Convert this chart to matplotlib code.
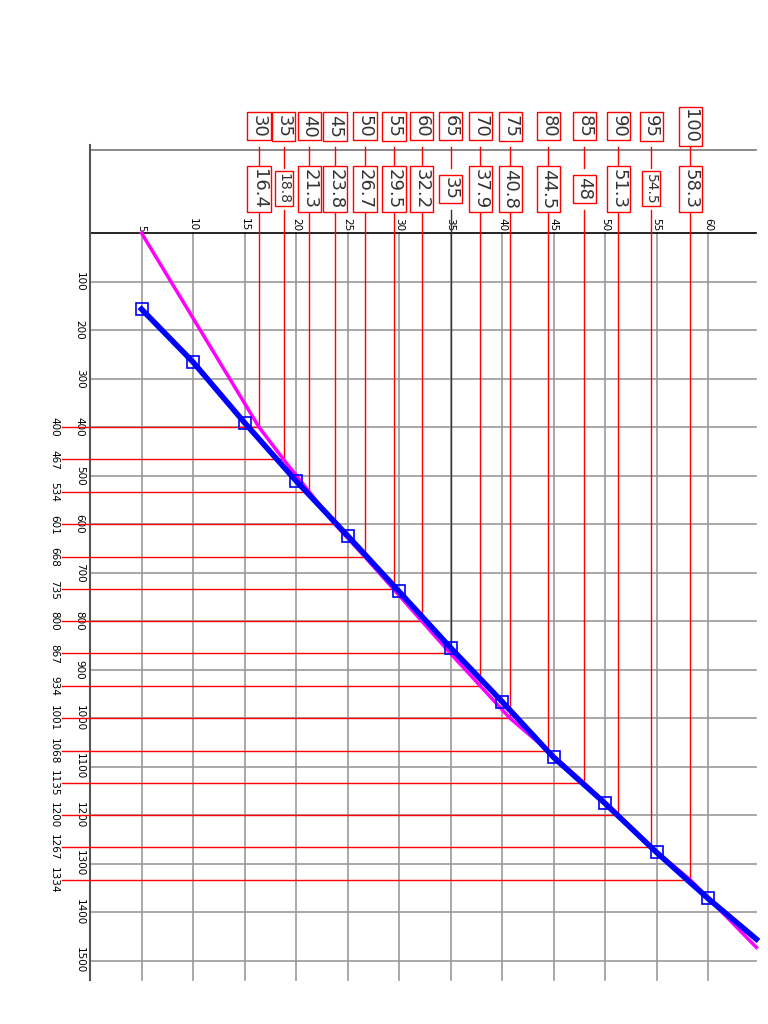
import matplotlib
matplotlib.use("Agg")
import matplotlib.pyplot as plt

# data
top_labels = [30, 35, 40, 45, 50, 55, 60, 65, 70, 75, 80, 85, 90, 95, 100]
x_vals = [16.4, 18.8, 21.3, 23.8, 26.7, 29.5, 32.2, 35, 37.9, 40.8, 44.5, 48, 51.3, 54.5, 58.3]
x_text = ["16.4", "18.8", "21.3", "23.8", "26.7", "29.5", "32.2", "35", "37.9", "40.8", "44.5", "48", "51.3", "54.5", "58.3"]
y_vals = [400, 467, 534, 601, 668, 735, 800, 867, 934, 1001, 1068, 1135, 1200, 1267, 1334]
x_ticks = [5, 10, 15, 20, 25, 30, 35, 40, 45, 50, 55, 60]
y_ticks = [100, 200, 300, 400, 500, 600, 700, 800, 900, 1000, 1100, 1200, 1300, 1400, 1500]
blue_x = [5, 10, 15, 20, 25, 30, 35, 40, 45, 50, 55, 60]
blue_y = [157, 266, 391, 511, 624, 739, 855, 966, 1081, 1176, 1277, 1372]
blue_end = (64.7, 1456)
mag_start = (5, 0)
mag_end = (64.7, 1473)

fig = plt.figure(figsize=(7.68, 10.24), dpi=100)
ax = fig.add_axes([0, 0, 1, 1])
ax.set_xlim(-90/10.3, (768-90)/10.3)
ax.set_ylim((1024-233)/0.485, -233/0.485)
ax.axis("off")

XR = 64.7
YB = 1540
grid = "#999999"
for x in x_ticks:
    ax.plot([x, x], [0, YB], color=grid, lw=1.2, zorder=1)
    ax.text(x, -3, str(x), rotation=-90, ha="center", va="bottom", fontsize=7.5)
for y in y_ticks:
    ax.plot([0, XR], [y, y], color=grid, lw=1.2, zorder=1)
    ax.text(-1.0, y, str(y), rotation=-90, ha="center", va="center", fontsize=7.5)
ax.plot([0, XR], [0, 0], color="black", lw=1.2, zorder=2)
ax.plot([0, XR], [-171, -171], color="#777777", lw=1.2, zorder=2)
ax.plot([0, 0], [-181, YB], color="#555555", lw=1.5, zorder=2)

for i, (lab, xv, xt, yv) in enumerate(zip(top_labels, x_vals, x_text, y_vals)):
    col = "#333333" if lab == 65 else "red"
    ax.plot([xv, xv], [-177, -134], color="red", lw=1, zorder=3)
    ax.plot([xv, xv], [-47, yv], color=col, lw=1, zorder=3)
    ax.plot([-2.7, xv], [yv, yv], color="red", lw=1, zorder=3)
    ax.text(-3.5, yv, str(yv), rotation=-90, ha="center", va="center", fontsize=7.5)
    ax.text(xv, -220, str(lab), rotation=-90, ha="center", va="center", fontsize=13,
            color="#333333", bbox=dict(boxstyle="square,pad=0.15", fc="white", ec="red", lw=1))
    ax.text(xv, -91, xt, rotation=-90, ha="center", va="center",
            fontsize=10 if xt in ("18.8", "54.5") else 13, color="#333333",
            bbox=dict(boxstyle="square,pad=0.15", fc="white", ec="red", lw=1))

mx = [mag_start[0]] + x_vals + [mag_end[0]]
my = [mag_start[1]] + y_vals + [mag_end[1]]
ax.plot(mx, my, color="magenta", lw=2.5, zorder=4)
ax.plot(blue_x + [blue_end[0]], blue_y + [blue_end[1]], color="blue", lw=4, zorder=5)
ax.plot(blue_x, blue_y, ls="none", marker="s", ms=9, mfc="none", mec="blue", mew=1.2, zorder=6)

fig.savefig("out.png", dpi=100)
